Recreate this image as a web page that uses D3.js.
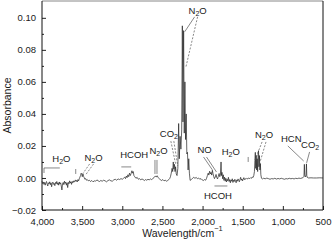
<!DOCTYPE html>
<html>
<head>
<meta charset="utf-8">
<script src="https://cdn.jsdelivr.net/npm/d3@7"></script>
<style>
  body { margin: 0; background: #fff; }
  svg text { font-family: "Liberation Sans", Arial, sans-serif; fill: #1a1a1a; }
</style>
</head>
<body>
<div id="chart"></div>
<script>
// spectrum: [wavenumber (cm-1), absorbance]
const spectrum = [
  [4000,-0.0020],[3992,-0.0035],[3984,-0.0025],[3976,-0.0040],[3968,-0.0028],[3960,-0.0045],
  [3952,-0.0030],[3944,-0.0022],[3936,-0.0038],[3928,-0.0050],[3920,-0.0030],[3912,-0.0036],
  [3904,-0.0024],[3896,-0.0042],[3888,-0.0030],[3880,-0.0055],[3872,-0.0032],[3864,-0.0026],
  [3856,-0.0040],[3848,-0.0034],[3840,-0.0048],[3832,-0.0028],[3824,-0.0036],[3816,-0.0022],
  [3808,-0.0040],[3800,-0.0030],[3792,-0.0045],[3784,-0.0025],[3776,-0.0038],[3768,-0.0030],
  [3760,-0.0050],[3752,-0.0075],[3744,-0.0035],[3736,-0.0028],[3728,-0.0042],[3720,-0.0020],
  [3712,-0.0034],[3704,-0.0026],[3696,-0.0045],[3688,-0.0030],[3680,-0.0060],[3672,-0.0028],
  [3664,-0.0036],[3656,-0.0018],[3648,-0.0032],[3640,-0.0024],[3632,-0.0040],[3624,-0.0022],
  [3616,-0.0030],[3608,-0.0018],[3600,-0.0026],[3592,-0.0020],[3584,-0.0012],[3576,-0.0022],
  [3568,-0.0015],[3560,-0.0024],[3552,-0.0010],[3544,-0.0018],[3536,-0.0005],[3528,0.0005],
  [3520,0.0015],[3512,0.0030],[3505,0.0022],[3498,0.0008],[3490,0.0025],[3482,0.0010],
  [3474,0.0002],[3466,-0.0008],[3456,-0.0004],[3446,-0.0014],[3436,-0.0010],[3424,-0.0018],
  [3410,-0.0014],[3396,-0.0022],[3380,-0.0016],[3364,-0.0024],[3348,-0.0018],[3332,-0.0020],
  [3316,-0.0012],[3300,-0.0018],[3284,-0.0022],[3268,-0.0016],[3250,-0.0020],[3232,-0.0014],
  [3214,-0.0018],[3196,-0.0024],[3178,-0.0016],[3160,-0.0012],[3142,-0.0018],[3124,-0.0020],
  [3106,-0.0012],[3088,-0.0008],[3070,-0.0014],[3052,-0.0006],[3034,-0.0010],[3016,-0.0004],
  [3000,-0.0008],[2985,-0.0002],[2970,0.0005],[2960,-0.0004],[2950,0.0012],[2940,0.0002],
  [2930,0.0020],[2920,0.0008],[2910,0.0030],[2900,0.0015],[2890,0.0028],[2880,0.0045],
  [2872,0.0030],[2864,0.0040],[2855,0.0015],[2845,0.0008],[2830,-0.0002],[2815,0.0004],
  [2800,-0.0008],[2785,-0.0004],[2770,-0.0012],[2755,-0.0006],[2740,-0.0010],[2725,-0.0016],
  [2710,-0.0010],[2695,-0.0014],[2680,-0.0008],[2665,-0.0012],[2650,-0.0006],[2635,-0.0010],
  [2620,-0.0004],[2605,0.0002],[2590,0.0012],[2578,0.0006],[2566,0.0014],[2554,0.0004],
  [2540,-0.0004],[2525,-0.0012],[2510,-0.0016],[2495,-0.0010],[2480,-0.0018],[2465,-0.0014],
  [2450,-0.0020],[2435,-0.0016],[2420,-0.0010],[2410,-0.0004],[2400,0.0008],[2390,0.0030],
  [2380,0.0060],[2372,0.0040],[2365,0.0100],[2358,0.0055],[2350,0.0085],[2343,0.0040],
  [2336,0.0070],[2328,0.0025],[2318,0.0015],[2308,0.0060],[2298,0.0340],[2290,0.0120],
  [2280,0.0260],[2270,0.0180],[2260,0.0300],[2252,0.0950],[2244,0.0350],[2236,0.0920],
  [2228,0.0280],[2220,0.0600],[2212,0.0240],[2204,0.0400],[2196,0.0150],[2188,0.0160],
  [2180,0.0050],[2172,0.0120],[2164,0.0030],[2155,-0.0015],[2140,-0.0010],[2125,-0.0002],
  [2110,0.0004],[2095,-0.0002],
  [2080,0.0003],[2065,-0.0004],[2050,0.0000],[2035,-0.0008],[2020,-0.0004],[2005,-0.0012],
  [1990,-0.0016],[1975,-0.0010],[1962,-0.0014],[1950,-0.0002],[1940,0.0015],[1930,0.0030],
  [1922,0.0018],[1912,0.0042],[1903,0.0025],[1895,0.0035],[1886,0.0018],[1878,0.0048],
  [1870,0.0028],[1862,0.0010],[1852,-0.0004],[1842,0.0006],[1832,0.0022],[1824,0.0004],
  [1814,-0.0006],[1804,0.0010],[1794,0.0028],[1786,0.0008],[1778,0.0018],[1770,0.0100],
  [1764,0.0015],[1758,0.0035],[1750,-0.0005],[1742,0.0020],[1734,-0.0015],[1726,0.0005],
  [1718,-0.0020],[1710,-0.0002],[1702,-0.0025],[1694,-0.0008],[1686,-0.0018],[1678,0.0004],
  [1670,-0.0022],[1662,-0.0010],[1654,-0.0030],[1646,-0.0012],[1638,-0.0020],[1630,-0.0005],
  [1622,-0.0028],[1614,-0.0014],[1606,-0.0022],[1598,-0.0008],[1590,-0.0018],[1582,-0.0030],
  [1574,-0.0012],[1566,-0.0020],[1558,-0.0006],[1550,-0.0016],[1542,-0.0024],[1534,-0.0010],
  [1526,0.0004],[1518,-0.0014],[1510,-0.0006],[1502,-0.0018],[1494,-0.0008],[1486,0.0002],
  [1478,-0.0010],[1470,-0.0004],[1460,-0.0008],[1448,-0.0002],[1436,-0.0006],[1424,0.0000],
  [1412,-0.0004],[1400,0.0002],[1390,-0.0002],[1380,0.0006],[1370,0.0004],[1362,0.0015],
  [1354,0.0040],[1348,0.0110],[1343,0.0160],[1338,0.0060],[1332,0.0140],[1326,0.0050],
  [1320,0.0120],[1314,0.0040],[1308,0.0150],[1303,0.0170],[1298,0.0070],[1292,0.0140],
  [1286,0.0050],[1280,0.0090],[1274,0.0020],[1266,-0.0002],[1255,-0.0006],[1240,-0.0002],
  [1220,-0.0005],[1200,-0.0001],[1180,-0.0004],[1160,-0.0008],[1140,-0.0004],[1120,-0.0006],
  [1100,-0.0002],[1080,-0.0007],[1060,-0.0003],[1040,-0.0006],[1020,-0.0002],[1000,-0.0005],
  [980,-0.0008],[960,-0.0004],[940,-0.0006],[920,-0.0002],[900,-0.0005],[880,-0.0003],
  [860,-0.0006],[840,-0.0002],[820,-0.0004],[800,-0.0001],[780,-0.0003],[760,0.0000],
  [745,0.0004],[737,0.0010],[732,0.0085],[728,0.0020],[720,0.0006],[712,0.0012],
  [706,0.0088],[702,0.0015],[696,0.0004],[680,0.0000],[650,0.0001],[620,0.0000],
  [580,0.0000],[540,0.0001],[500,0.0000]
];

const xTicks = [4000, 3500, 3000, 2500, 2000, 1500, 1000, 500];
const xMinorTicks = [3750, 3250, 2750, 2250, 1750, 1250, 750];
const yTicks = [-0.02, 0, 0.02, 0.04, 0.06, 0.08, 0.10];
const yMinorTicks = [-0.01, 0.01, 0.03, 0.05, 0.07, 0.09];

// peak labels ("_2" marks a subscript), placed in data units
const labelText = ["H_2O", "N_2O", "HCOH", "N_2O", "CO_2", "N_2O", "NO", "H_2O", "HCOH", "N_2O", "HCN", "CO_2"];
const labelWn   = [3759, 3358, 2852, 2549, 2420, 2062, 1975, 1648, 1809, 1235, 895, 660];
const labelAbs  = [0.0100, 0.0106, 0.0125, 0.0150, 0.0256, 0.1025, 0.0156, 0.0144, -0.0131, 0.0250, 0.0225, 0.01875];

// leader lines [wn1, abs1, wn2, abs2]
const dashedLeaders = [
  [3407, 0.00875, 3494, 0.0025],
  [3358, 0.00875, 3457, 0.0019],
  [2395, 0.0230, 2333, 0.0081],
  [2358, 0.0230, 2309, 0.0075],
  [2062, 0.1006, 2210, 0.06875],
  [1259, 0.0225, 1346, 0.01125],
  [1210, 0.0225, 1284, 0.0100]
];
const solidLeaders = [
  [2099, 0.1006, 2222, 0.0913],
  [1988, 0.0131, 1877, 0.0050],
  [1951, 0.0131, 1827, 0.00375],
  [938, 0.0200, 741, 0.0106],
  [667, 0.01625, 704, 0.0094],
  [2593, 0.01125, 2593, 0.0025],
  [2568, 0.01125, 2568, 0.0025],
  [3975, 0.00625, 3778, 0.00625],
  [3975, 0.00625, 3975, 0.0031],
  [3580, 0.0056, 3580, 0.0025],
  [3012, 0.0069, 2889, 0.0069],
  [1432, 0.0131, 1432, 0.0100],
  [1852, -0.0050, 1691, -0.0050]
];

const width = 332, height = 245;
const margin = { top: 1, right: 9, bottom: 35, left: 42 };
const w = width - margin.left - margin.right;
const h = height - margin.top - margin.bottom;

const svg = d3.select("#chart").append("svg")
  .attr("width", width).attr("height", height);

const g = svg.append("g").attr("transform", `translate(${margin.left},${margin.top})`);

const x = d3.scaleLinear().domain([4000, 500]).range([0, w]);
const y = d3.scaleLinear().domain([-0.02, 0.1105]).range([h, 0]);

const fmtX = d3.format(",");
const fmtY = v => (v < 0 ? "\u2212" : "") + d3.format(".2f")(Math.abs(v));

// axes with inward ticks
g.append("g").attr("transform", `translate(0,${h})`)
  .call(d3.axisBottom(x).tickValues(xTicks).tickFormat(fmtX).tickSize(-4).tickPadding(8));
g.append("g").attr("transform", `translate(0,${h})`)
  .call(d3.axisBottom(x).tickValues(xMinorTicks).tickFormat("").tickSize(-2));
g.append("g")
  .call(d3.axisLeft(y).tickValues(yTicks).tickFormat(fmtY).tickSize(-4).tickPadding(6));
g.append("g")
  .call(d3.axisLeft(y).tickValues(yMinorTicks).tickFormat("").tickSize(-2));

g.selectAll(".domain").remove();
g.selectAll(".tick line").attr("stroke", "#222");
g.selectAll(".tick text").style("font-size", "9.5px").attr("fill", "#1a1a1a");

// frame
g.append("line").attr("x1", 0).attr("x2", w).attr("y1", 0).attr("y2", 0).attr("stroke", "#888");
g.append("line").attr("x1", w).attr("x2", w).attr("y1", 0).attr("y2", h).attr("stroke", "#111");
g.append("line").attr("x1", 0).attr("x2", 0).attr("y1", 0).attr("y2", h).attr("stroke", "#111");
g.append("line").attr("x1", 0).attr("x2", w).attr("y1", h).attr("y2", h).attr("stroke", "#111");

// spectrum
const line = d3.line().x(d => x(d[0])).y(d => y(d[1]));
g.append("path").datum(spectrum)
  .attr("fill", "none").attr("stroke", "#222").attr("stroke-width", 0.7)
  .attr("d", line);

// leaders
g.selectAll(".ld").data(dashedLeaders).join("line")
  .attr("x1", d => x(d[0])).attr("y1", d => y(d[1]))
  .attr("x2", d => x(d[2])).attr("y2", d => y(d[3]))
  .attr("stroke", "#555").attr("stroke-width", 0.7).attr("stroke-dasharray", "2,1.5");
g.selectAll(".ls").data(solidLeaders).join("line")
  .attr("x1", d => x(d[0])).attr("y1", d => y(d[1]))
  .attr("x2", d => x(d[2])).attr("y2", d => y(d[3]))
  .attr("stroke", "#555").attr("stroke-width", 0.7);

// labels with subscripts
labelText.forEach((t, i) => {
  const txt = g.append("text")
    .attr("x", x(labelWn[i])).attr("y", y(labelAbs[i]))
    .attr("text-anchor", "middle").style("font-size", "9.5px");
  t.split(/(_\d)/).filter(s => s).forEach(part => {
    if (part[0] === "_") {
      txt.append("tspan").text(part.slice(1)).style("font-size", "7px").attr("dy", "2.5");
    } else {
      const sp = txt.append("tspan").text(part);
      if (txt.selectAll("tspan").size() > 1) sp.attr("dy", "-2.5");
    }
  });
});

// axis titles
svg.append("text")
  .attr("transform", `translate(11,${margin.top + h / 2}) rotate(-90)`)
  .attr("text-anchor", "middle").style("font-size", "10.5px")
  .text("Absorbance");

const xt = svg.append("text")
  .attr("x", margin.left + w / 2).attr("y", 237)
  .attr("text-anchor", "middle").style("font-size", "10.5px");
xt.append("tspan").text("Wavelength/cm");
xt.append("tspan").text("\u22121").style("font-size", "7.5px").attr("dy", "-6");
</script>
</body>
</html>
